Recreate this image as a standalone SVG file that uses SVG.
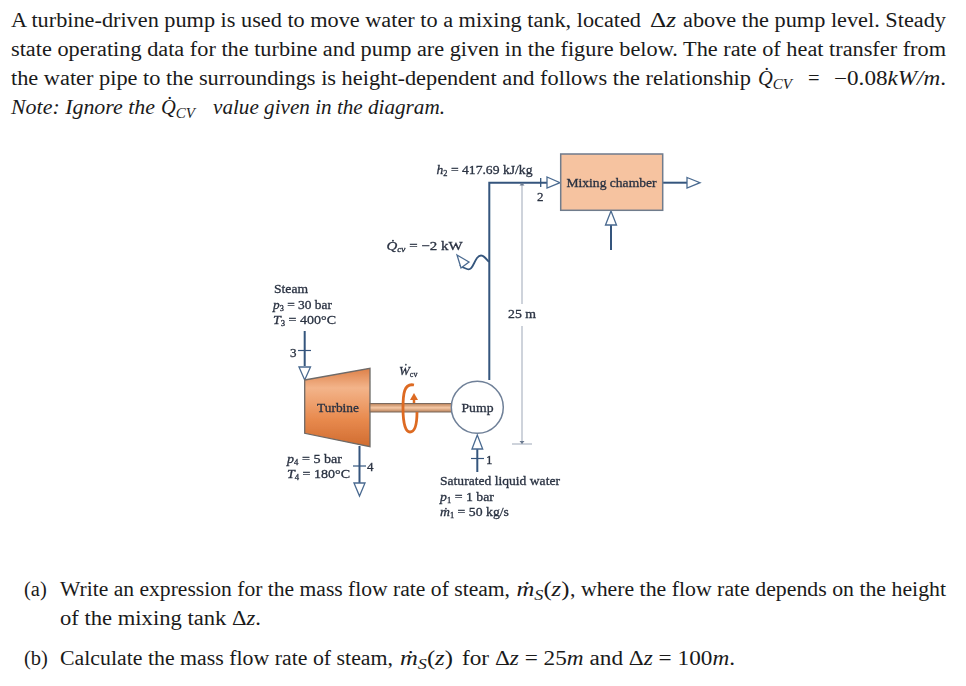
<svg xmlns="http://www.w3.org/2000/svg" width="966" height="686" viewBox="0 0 966 686">
<style>
.t{font-family:"Liberation Serif","DejaVu Serif",serif;font-size:20.5px;fill:#1a1a1a}
.i{font-style:italic}
.d{font-family:"Liberation Serif","DejaVu Serif",serif;font-size:13px;fill:#2a3242;stroke:#2a3242;stroke-width:.3}
.p{fill:none;stroke:#34557d;stroke-width:2}
.h{fill:#fff;stroke:#4a6a90;stroke-width:1.3}
.b{filter:url(#soft)}
</style>
<defs>
<filter id="soft" x="-5%" y="-5%" width="110%" height="110%"><feGaussianBlur stdDeviation="0.35"/></filter>
<linearGradient id="tg" x1="0" y1="0" x2="0" y2="1">
<stop offset="0" stop-color="#dd8048"/><stop offset="0.25" stop-color="#f3b48a"/><stop offset="0.65" stop-color="#e88a4e"/><stop offset="1" stop-color="#d06c30"/>
</linearGradient>
<linearGradient id="sg" x1="0" y1="0" x2="0" y2="1">
<stop offset="0" stop-color="#b98058"/><stop offset="0.5" stop-color="#f6c9a6"/><stop offset="1" stop-color="#b98058"/>
</linearGradient>
</defs>
<rect width="966" height="686" fill="#fff"/>

<g id="problem-text">
<text class="t" x="11" y="27" textLength="630" lengthAdjust="spacingAndGlyphs">A turbine-driven pump is used to move water to a mixing tank, located</text>
<text class="t" x="650" y="27" textLength="26" lengthAdjust="spacingAndGlyphs">Δ<tspan class="i">z</tspan></text>
<text class="t" x="683" y="27" textLength="263" lengthAdjust="spacingAndGlyphs">above the pump level. Steady</text>
<text class="t" x="11" y="56" textLength="935" lengthAdjust="spacingAndGlyphs">state operating data for the turbine and pump are given in the figure below. The rate of heat transfer from</text>
<text class="t" x="11" y="85" textLength="740" lengthAdjust="spacingAndGlyphs">the water pipe to the surroundings is height-dependent and follows the relationship</text>
<text class="t i" x="758" y="85">Q̇<tspan font-size="15" dy="4">CV</tspan></text>
<text class="t" x="808" y="85">=</text>
<text class="t" x="834" y="85" textLength="112" lengthAdjust="spacingAndGlyphs">−0.08<tspan class="i">kW/m</tspan>.</text>
<text class="t i" x="11" y="114" textLength="144" lengthAdjust="spacingAndGlyphs">Note: Ignore the</text>
<text class="t i" x="161" y="114">Q̇<tspan font-size="15" dy="4">CV</tspan></text>
<text class="t i" x="213" y="114" textLength="232" lengthAdjust="spacingAndGlyphs">value given in the diagram.</text>
</g>

<g id="connectors" class="b">
<path class="p" d="M489.300 380V182.700H548"/>
<path d="M540.700 178V187" class="p" style="stroke-width:1.300"/>
<path class="p" d="M662.700 182.700H690"/>
<path class="p" d="M611 250V224"/>
<path class="p" d="M304.700 331V366"/>
<path d="M298 350.500H311" class="p" style="stroke-width:1.200"/>
<path class="p" d="M359.500 446V483"/>
<path d="M353 466H366" class="p" style="stroke-width:1.200"/>
<path class="p" d="M477.300 472V449"/>
<path d="M471 458.500H484" class="p" style="stroke-width:1.200"/>
<path d="M522 185V304M522 326V444" fill="none" stroke="#b4bcc8" stroke-width="1.300"/>
<path d="M512 444H532" fill="none" stroke="#b4bcc8" stroke-width="1.300"/>
<path d="M519.500 185.500h5l-2.500-3zM519.500 441h5l-2.500 3z" fill="#6b7a90"/>
<path d="M489 262C484 256 481 253 477 258C473 264 472 271 467 269C463 268 462 267 460 265" fill="none" stroke="#34557d" stroke-width="1.800"/>
<path class="h" d="M547 177L560 182.700L547 188Z"/>
<path class="h" d="M687 177.500L700 182.700L687 188Z"/>
<path class="h" d="M605.500 225L611 211L616.500 225Z"/>
<path class="h" d="M299 367L304.700 380L310.500 367Z"/>
<path class="h" d="M354 483L359.500 496L365 483Z"/>
<path class="h" d="M472 449L477.300 435L482.700 449Z"/>
<path class="h" d="M457 255L469 262L461 268Z"/>
</g>

<g id="turbine" class="b">
<path d="M304.700 380L370 368.300V446.700L304.700 433.300Z" fill="url(#tg)" stroke="#6e6a68" stroke-width="1.300"/>
<text class="d" x="338" y="412" text-anchor="middle" textLength="42" lengthAdjust="spacingAndGlyphs">Turbine</text>
</g>

<g id="shaft" class="b">
<rect x="370" y="403.500" width="83" height="8.500" fill="url(#sg)" stroke="#7a6a5e" stroke-width="1"/>
<path d="M414 385C404 383 403 394 403 408C403 425 406 432 410 432C415 432 417 424 417 412" fill="none" stroke="#dd6a22" stroke-width="2.800"/>
<path d="M414 403V397" stroke="#dd6a22" stroke-width="2.500" fill="none"/>
<path d="M410 400L414 393L418 400Z" fill="#dd6a22" stroke="none"/>
<text class="d" x="399" y="375"><tspan class="i">Ẇ</tspan><tspan font-size="8" dy="2">cv</tspan></text>
</g>

<g id="pump" class="b">
<circle cx="477.300" cy="407.300" r="26" fill="#fff" stroke="#6f8098" stroke-width="1.500"/>
<text class="d" x="477.500" y="412" text-anchor="middle" textLength="32" lengthAdjust="spacingAndGlyphs">Pump</text>
</g>

<g id="mixing-chamber" class="b">
<rect x="560.700" y="154" width="102" height="56.300" fill="#f6c3a0" stroke="#6f7b8c" stroke-width="1.500"/>
<text class="d" x="611.500" y="187" text-anchor="middle" textLength="90" lengthAdjust="spacingAndGlyphs">Mixing chamber</text>
</g>

<g id="labels" class="b">
<text class="d" x="274" y="293" textLength="34" lengthAdjust="spacingAndGlyphs">Steam</text>
<text class="d" x="273" y="309" textLength="59" lengthAdjust="spacingAndGlyphs"><tspan class="i">p</tspan><tspan font-size="8" dy="2">3</tspan><tspan dy="-2"> = 30 bar</tspan></text>
<text class="d" x="273" y="324" textLength="63" lengthAdjust="spacingAndGlyphs"><tspan class="i">T</tspan><tspan font-size="8" dy="2">3</tspan><tspan dy="-2"> = 400°C</tspan></text>
<text class="d" x="290" y="357">3</text>
<text class="d" x="287" y="463" textLength="55" lengthAdjust="spacingAndGlyphs"><tspan class="i">p</tspan><tspan font-size="8" dy="2">4</tspan><tspan dy="-2"> = 5 bar</tspan></text>
<text class="d" x="287" y="478" textLength="63" lengthAdjust="spacingAndGlyphs"><tspan class="i">T</tspan><tspan font-size="8" dy="2">4</tspan><tspan dy="-2"> = 180°C</tspan></text>
<text class="d" x="367" y="471">4</text>
<text class="d" x="486" y="464">1</text>
<text class="d" x="440" y="485" textLength="120" lengthAdjust="spacingAndGlyphs">Saturated liquid water</text>
<text class="d" x="440" y="501" textLength="54" lengthAdjust="spacingAndGlyphs"><tspan class="i">p</tspan><tspan font-size="8" dy="2">1</tspan><tspan dy="-2"> = 1 bar</tspan></text>
<text class="d" x="440" y="516" textLength="69" lengthAdjust="spacingAndGlyphs"><tspan class="i">ṁ</tspan><tspan font-size="8" dy="2">1</tspan><tspan dy="-2"> = 50 kg/s</tspan></text>
<text class="d" x="522" y="318" text-anchor="middle" textLength="28" lengthAdjust="spacingAndGlyphs">25 m</text>
<text class="d" x="537" y="201">2</text>
<text class="d" x="436.500" y="174" textLength="96" lengthAdjust="spacingAndGlyphs"><tspan class="i">h</tspan><tspan font-size="8" dy="2">2</tspan><tspan dy="-2"> = 417.69 kJ/kg</tspan></text>
<text class="d" x="386.500" y="250" textLength="76" lengthAdjust="spacingAndGlyphs"><tspan class="i">Q̇</tspan><tspan font-size="8" dy="2" class="i">cv</tspan><tspan dy="-2"> = −2 kW</tspan></text>
</g>

<g id="questions">
<text class="t" x="24" y="596">(a)</text>
<text class="t" x="60" y="596" textLength="450" lengthAdjust="spacingAndGlyphs">Write an expression for the mass flow rate of steam,</text>
<text class="t" x="516.500" y="596" textLength="53" lengthAdjust="spacingAndGlyphs"><tspan class="i">ṁ</tspan><tspan class="i" font-size="15" dy="4">S</tspan><tspan dy="-4">(</tspan><tspan class="i">z</tspan>)</text>
<text class="t" x="570" y="596" textLength="376" lengthAdjust="spacingAndGlyphs">, where the flow rate depends on the height</text>
<text class="t" x="60" y="625" textLength="201" lengthAdjust="spacingAndGlyphs">of the mixing tank Δ<tspan class="i">z</tspan>.</text>
<text class="t" x="24" y="665">(b)</text>
<text class="t" x="60" y="665" textLength="333" lengthAdjust="spacingAndGlyphs">Calculate the mass flow rate of steam,</text>
<text class="t" x="400" y="665" textLength="53" lengthAdjust="spacingAndGlyphs"><tspan class="i">ṁ</tspan><tspan class="i" font-size="15" dy="4">S</tspan><tspan dy="-4">(</tspan><tspan class="i">z</tspan>)</text>
<text class="t" x="462" y="665" textLength="273" lengthAdjust="spacingAndGlyphs">for Δ<tspan class="i">z</tspan> = 25<tspan class="i">m</tspan> and Δ<tspan class="i">z</tspan> = 100<tspan class="i">m</tspan>.</text>
</g>
</svg>
